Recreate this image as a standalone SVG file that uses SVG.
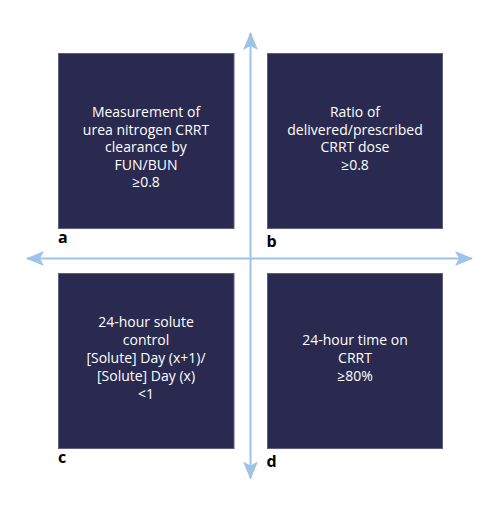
<svg xmlns="http://www.w3.org/2000/svg" width="500" height="512" viewBox="0 0 500 512">
<defs>
<style>
.box{fill:#2a2a50;stroke:#5e5e80;stroke-width:1}
.t{font-family:"Open Sans","Noto Sans",sans-serif;font-size:14px;fill:#ffffff;text-anchor:middle}
.lbl{font-family:"Open Sans","Noto Sans",sans-serif;font-size:16px;font-weight:bold;fill:#000000}
.axis{stroke:#9dc3e6;stroke-width:2;fill:none}
</style>
<marker id="arr" viewBox="0 0 18 16" markerWidth="18" markerHeight="16" refX="17" refY="8" orient="auto-start-reverse" markerUnits="userSpaceOnUse">
<path d="M0,0.5 L18,8 L0,15.5 L4,8 Z" fill="#9dc3e6"/>
</marker>
</defs>
<rect width="500" height="512" fill="#ffffff"/>
<g id="node-a">
<rect class="box" x="58.5" y="53.5" width="175.5" height="175"/>
<text class="t" x="146" y="117">Measurement of</text>
<text class="t" x="146" y="134.5">urea nitrogen CRRT</text>
<text class="t" x="146" y="152">clearance by</text>
<text class="t" x="146" y="169.5">FUN/BUN</text>
<text class="t" x="146" y="187">≥0.8</text>
<text class="lbl" x="58" y="243">a</text>
</g>
<g id="node-b">
<rect class="box" x="267.5" y="53.5" width="175" height="175"/>
<text class="t" x="355" y="117">Ratio of</text>
<text class="t" x="355" y="134.5">delivered/prescribed</text>
<text class="t" x="355" y="152">CRRT dose</text>
<text class="t" x="355" y="170">≥0.8</text>
<text class="lbl" x="266.5" y="246.5">b</text>
</g>
<g id="node-c">
<rect class="box" x="58.5" y="273.5" width="175.5" height="175"/>
<text class="t" x="146" y="327">24-hour solute</text>
<text class="t" x="146" y="345">control</text>
<text class="t" x="146" y="363">[Solute] Day (x+1)/</text>
<text class="t" x="146" y="381">[Solute] Day (x)</text>
<text class="t" x="146" y="399">&lt;1</text>
<text class="lbl" x="58" y="463">c</text>
</g>
<g id="node-d">
<rect class="box" x="267.5" y="273.5" width="175" height="175"/>
<text class="t" x="355" y="345">24-hour time on</text>
<text class="t" x="355" y="363">CRRT</text>
<text class="t" x="355" y="380.5">≥80%</text>
<text class="lbl" x="266.5" y="466.5">d</text>
</g>
<g id="connectors">
<line class="axis" x1="27" y1="258.5" x2="472" y2="258.5" marker-start="url(#arr)" marker-end="url(#arr)"/>
<line class="axis" x1="250.5" y1="33" x2="250.5" y2="478.5" marker-start="url(#arr)" marker-end="url(#arr)"/>
</g>
</svg>
